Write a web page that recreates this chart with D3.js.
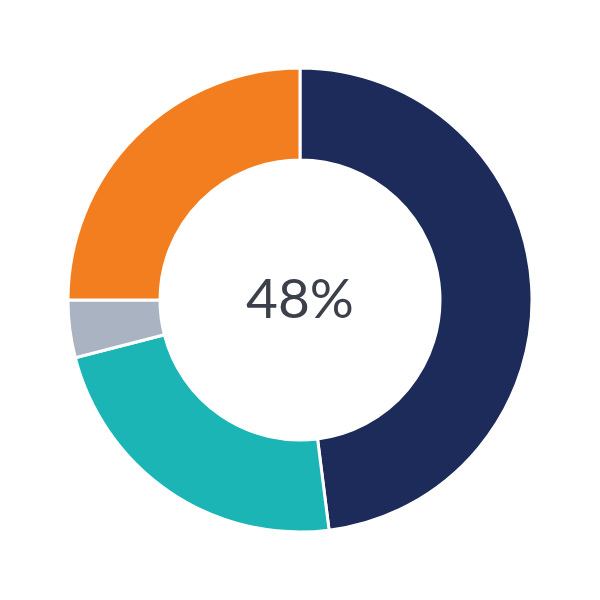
<!DOCTYPE html>
<html>
<head>
<meta charset="utf-8">
<script src="https://cdn.jsdelivr.net/npm/d3@7"></script>
<style>
  html, body { margin: 0; padding: 0; background: #ffffff; }
  svg { display: block; }
</style>
</head>
<body>
<svg id="chart" width="600" height="600"></svg>
<script>
const categories = ["A", "B", "C", "D"];
const values = [48, 23, 4, 25];
const colors = ["#1c2b5a", "#1cb5b6", "#a9b3c1", "#f37e20"];
const centerLabel = "48%";

const svg = d3.select("#chart");
const g = svg.append("g").attr("transform", "translate(300,300)");

const pie = d3.pie().value(d => d.value).sort(null);
const arc = d3.arc().innerRadius(140).outerRadius(232);

const data = categories.map((c, i) => ({ name: c, value: values[i], color: colors[i] }));

g.selectAll("path")
  .data(pie(data))
  .join("path")
  .attr("d", arc)
  .attr("fill", d => d.data.color)
  .attr("stroke", "#ffffff")
  .attr("stroke-width", 3);

g.append("text")
  .attr("text-anchor", "middle")
  .attr("dominant-baseline", "central")
  .attr("y", -3)
  .attr("font-family", "Lato, sans-serif")
  .attr("font-weight", 400)
  .attr("font-size", 55)
  .attr("fill", "#3b404b")
  .text(centerLabel);
</script>
</body>
</html>
